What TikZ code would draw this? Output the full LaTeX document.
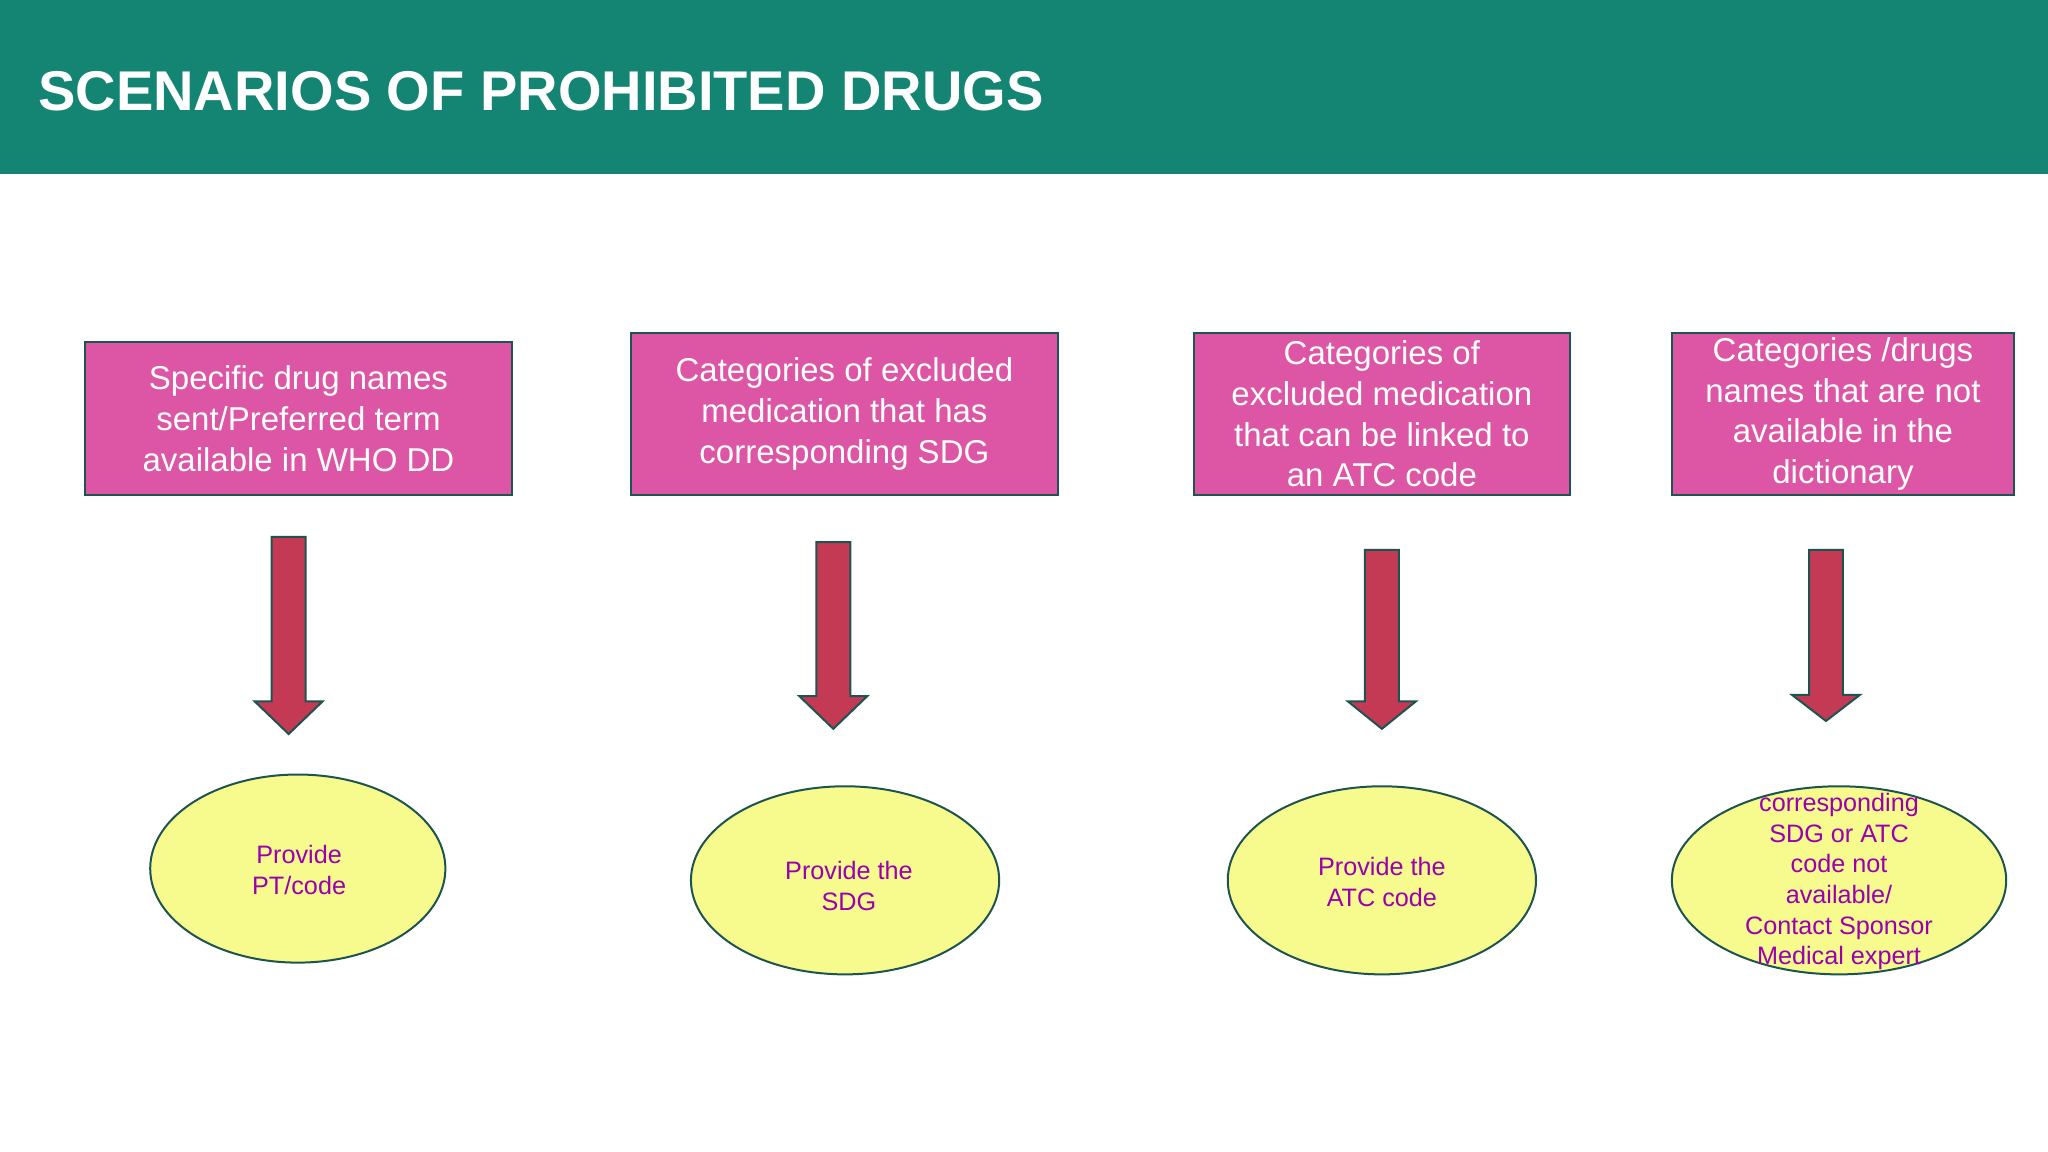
\documentclass[tikz,border=0pt]{standalone}
\usepackage{fontspec}
\setmainfont{Liberation Sans}
\usetikzlibrary{shapes.geometric}
\definecolor{hdr}{HTML}{138572}
\definecolor{boxfill}{HTML}{DD56A5}
\definecolor{edge}{HTML}{1E5450}
\definecolor{arr}{HTML}{C43A55}
\definecolor{ell}{HTML}{F7FA8C}
\definecolor{ptxt}{HTML}{9A00B0}
\begin{document}
\begin{tikzpicture}[x=0.653pt,y=-0.653pt,
  boxnode/.style={draw=edge,line width=1.2pt,fill=boxfill,text=white,align=center,inner sep=0pt,
     font=\fontsize{16.5}{20.3}\selectfont},
  ellnode/.style={draw=edge,line width=1pt,fill=ell,ellipse,inner sep=0pt},
  elltext/.style={text=ptxt,align=center,font=\fontsize{12.6}{15.5}\selectfont},
  blockarrow/.style={draw=edge,line width=1pt,fill=arr}]
\useasboundingbox (0,0) rectangle (1568,882);
\fill[white] (0,0) rectangle (1568,882);
\fill[hdr] (0,0) rectangle (1568,133);
\node[anchor=west,text=white,font=\fontsize{28}{32}\selectfont\bfseries] (title) at (24,70) {SCENARIOS OF PROHIBITED DRUGS};
% boxes
\node[boxnode,minimum width=327*0.653pt,minimum height=117*0.653pt] (b1) at (228.5,320.5) {Specific drug names\\sent/Preferred term\\available in WHO DD};
\node[boxnode,minimum width=327*0.653pt,minimum height=124*0.653pt] (b2) at (646.5,317) {Categories of excluded\\medication that has\\corresponding SDG};
\node[boxnode,minimum width=288*0.653pt,minimum height=124*0.653pt] (b3) at (1058,317) {Categories of\\excluded medication\\that can be linked to\\an ATC code};
\node[boxnode,minimum width=262*0.653pt,minimum height=124*0.653pt] (b4) at (1411,317) {Categories /drugs\\names that are not\\available in the\\dictionary};
% arrows
\foreach \n/\x/\t/\h/\p in {1/221/411/537/562, 2/638/415/533/558, 3/1058/421/537/558, 4/1398/421/532/552}{
  \coordinate (a\n) at (\x,\t);
  \draw[blockarrow] (\x-13,\t) -- (\x+13,\t) -- (\x+13,\h) -- (\x+26,\h) -- (\x,\p) -- (\x-26,\h) -- (\x-13,\h) -- cycle;
}
% ellipses
\node[ellnode,minimum width=226*0.653pt,minimum height=144*0.653pt] (e1) at (228,665) {};
\node[elltext] (t1) at (229,666) {Provide\\PT/code};
\node[ellnode,minimum width=236*0.653pt,minimum height=144*0.653pt] (e2) at (647,674) {};
\node[elltext] (t2) at (650,678) {Provide the\\SDG};
\node[ellnode,minimum width=236*0.653pt,minimum height=144*0.653pt] (e3) at (1058,674) {};
\node[elltext] (t3) at (1058,675.5) {Provide the\\ATC code};
\node[ellnode,minimum width=256*0.653pt,minimum height=144*0.653pt] (e4) at (1408,674) {};
\node[elltext,font=\fontsize{12.6}{15.3}\selectfont] (t4) at (1408,675) {corresponding\\SDG or ATC\\code not\\available/\\Contact Sponsor\\Medical expert};
\end{tikzpicture}
\end{document}
